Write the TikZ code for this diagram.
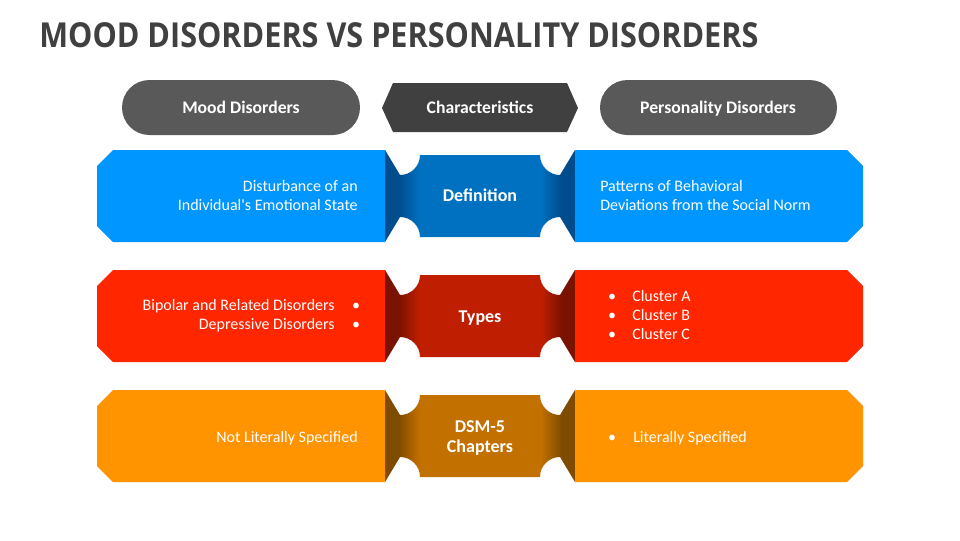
\documentclass[tikz,border=0pt]{standalone}
\usepackage{fontspec}
\setmainfont{Carlito}
\newfontfamily\titlefont{Open Sans}
\definecolor{blueside}{HTML}{0096FF}
\definecolor{bluemid}{HTML}{0070C0}
\definecolor{bluedk}{HTML}{004C8C}
\definecolor{redside}{HTML}{FF2600}
\definecolor{redmid}{HTML}{C01E00}
\definecolor{reddk}{HTML}{7A1200}
\definecolor{orside}{HTML}{FF9300}
\definecolor{ormid}{HTML}{C27000}
\definecolor{ordk}{HTML}{7F4B00}
\definecolor{pillgray}{HTML}{595959}
\definecolor{hexgray}{HTML}{404040}
\definecolor{titlegray}{HTML}{404040}
\pgfdeclarehorizontalshading{blueband}{100bp}{color(0bp)=(bluedk); color(28.5bp)=(bluedk); color(34bp)=(bluemid); color(66bp)=(bluemid); color(71.5bp)=(bluedk); color(100bp)=(bluedk)}
\pgfdeclarehorizontalshading{redband}{100bp}{color(0bp)=(reddk); color(28.5bp)=(reddk); color(34bp)=(redmid); color(66bp)=(redmid); color(71.5bp)=(reddk); color(100bp)=(reddk)}
\pgfdeclarehorizontalshading{orband}{100bp}{color(0bp)=(ordk); color(28.5bp)=(ordk); color(34bp)=(ormid); color(66bp)=(ormid); color(71.5bp)=(ordk); color(100bp)=(ordk)}
\tikzset{
  bodytext/.style={text=white, font=\fontsize{12}{14.25}\selectfont, inner sep=0pt},
  headtext/.style={text=white, font=\fontsize{13.25}{15}\selectfont\bfseries, inner sep=0pt},
  centertext/.style={text=white, font=\fontsize{13.5}{15.5}\selectfont\bfseries, inner sep=0pt, align=center},
}
\newcommand{\rowshapes}[3]{% top, sidecolor, shading
  \shade[shading=#3] (385,#1) -- (400,#1+25) arc[start angle=270,end angle=360,radius=15pt]
    -- (540,#1+5) arc[start angle=180,end angle=270,radius=15pt] -- (575,#1)
    -- (575,#1+92) -- (560,#1+67) arc[start angle=90,end angle=180,radius=15pt]
    -- (420,#1+87) arc[start angle=0,end angle=90,radius=15pt] -- (385,#1+92) -- cycle;
  \fill[#2] (113,#1) -- (385,#1) -- (385,#1+92) -- (113,#1+92) -- (97,#1+76) -- (97,#1+16) -- cycle;
  \fill[#2] (575,#1) -- (847,#1) -- (863,#1+16) -- (863,#1+76) -- (847,#1+92) -- (575,#1+92) -- cycle;
}
\begin{document}
\begin{tikzpicture}[x=0.75pt,y=-0.75pt]
\useasboundingbox (0,0) rectangle (960,540);
\fill[white] (0,0) rectangle (960,540);
% title
\node[anchor=base west, inner sep=0pt, text=titlegray, font=\titlefont\bfseries\fontsize{25.8}{30}\selectfont] (title) at (39,47) {\scalebox{0.89}[1]{MOOD DISORDERS VS PERSONALITY DISORDERS}};
% headers
\fill[pillgray, rounded corners=20.6pt] (122,80) rectangle (360,135);
\fill[pillgray, rounded corners=20.6pt] (600,80) rectangle (837,135);
\fill[hexgray] (382,108) -- (393,83) -- (567,83) -- (578,108) -- (567,132) -- (393,132) -- cycle;
\node[headtext, anchor=base] (hmood) at (241,113) {Mood Disorders};
\node[headtext, anchor=base] (hchar) at (480,113) {Characteristics};
\node[headtext, anchor=base] (hpers) at (718,113) {Personality Disorders};
% rows
\rowshapes{150}{blueside}{blueband}
\rowshapes{270}{redside}{redband}
\rowshapes{390}{orside}{orband}
% definition row
\node[centertext, anchor=base] (cdef) at (480,201) {Definition};
\node[bodytext, anchor=base east] (dl1) at (358,191) {Disturbance of an};
\node[bodytext, anchor=base east] (dl2) at (358,210) {Individual\textquotesingle s Emotional State};
\node[bodytext, anchor=base west] (dr1) at (600,191) {Patterns of Behavioral};
\node[bodytext, anchor=base west] (dr2) at (600,210) {Deviations from the Social Norm};
% types row
\node[centertext, anchor=base] (ctypes) at (480,322) {Types};
\node[bodytext, anchor=base east] (tl1) at (335,310) {Bipolar and Related Disorders};
\node[bodytext, anchor=base east] (tl2) at (335,329) {Depressive Disorders};
\node[bodytext, anchor=base] (tlb1) at (356,310) {•};
\node[bodytext, anchor=base] (tlb2) at (356,329) {•};
\node[bodytext, anchor=base] (trb1) at (612,301.5) {•};
\node[bodytext, anchor=base] (trb2) at (612,320.5) {•};
\node[bodytext, anchor=base] (trb3) at (612,339.5) {•};
\node[bodytext, anchor=base west] (tr1) at (632,301.5) {Cluster A};
\node[bodytext, anchor=base west] (tr2) at (632,320.5) {Cluster B};
\node[bodytext, anchor=base west] (tr3) at (632,339.5) {Cluster C};
% DSM row
\node[centertext, anchor=base] (cdsm1) at (480,432) {DSM-5};
\node[centertext, anchor=base] (cdsm2) at (480,452.5) {Chapters};
\node[bodytext, anchor=base east] (sl1) at (358,442) {Not Literally Specified};
\node[bodytext, anchor=base] (srb1) at (612,442) {•};
\node[bodytext, anchor=base west] (sr1) at (633,442) {Literally Specified};
\end{tikzpicture}
\end{document}
